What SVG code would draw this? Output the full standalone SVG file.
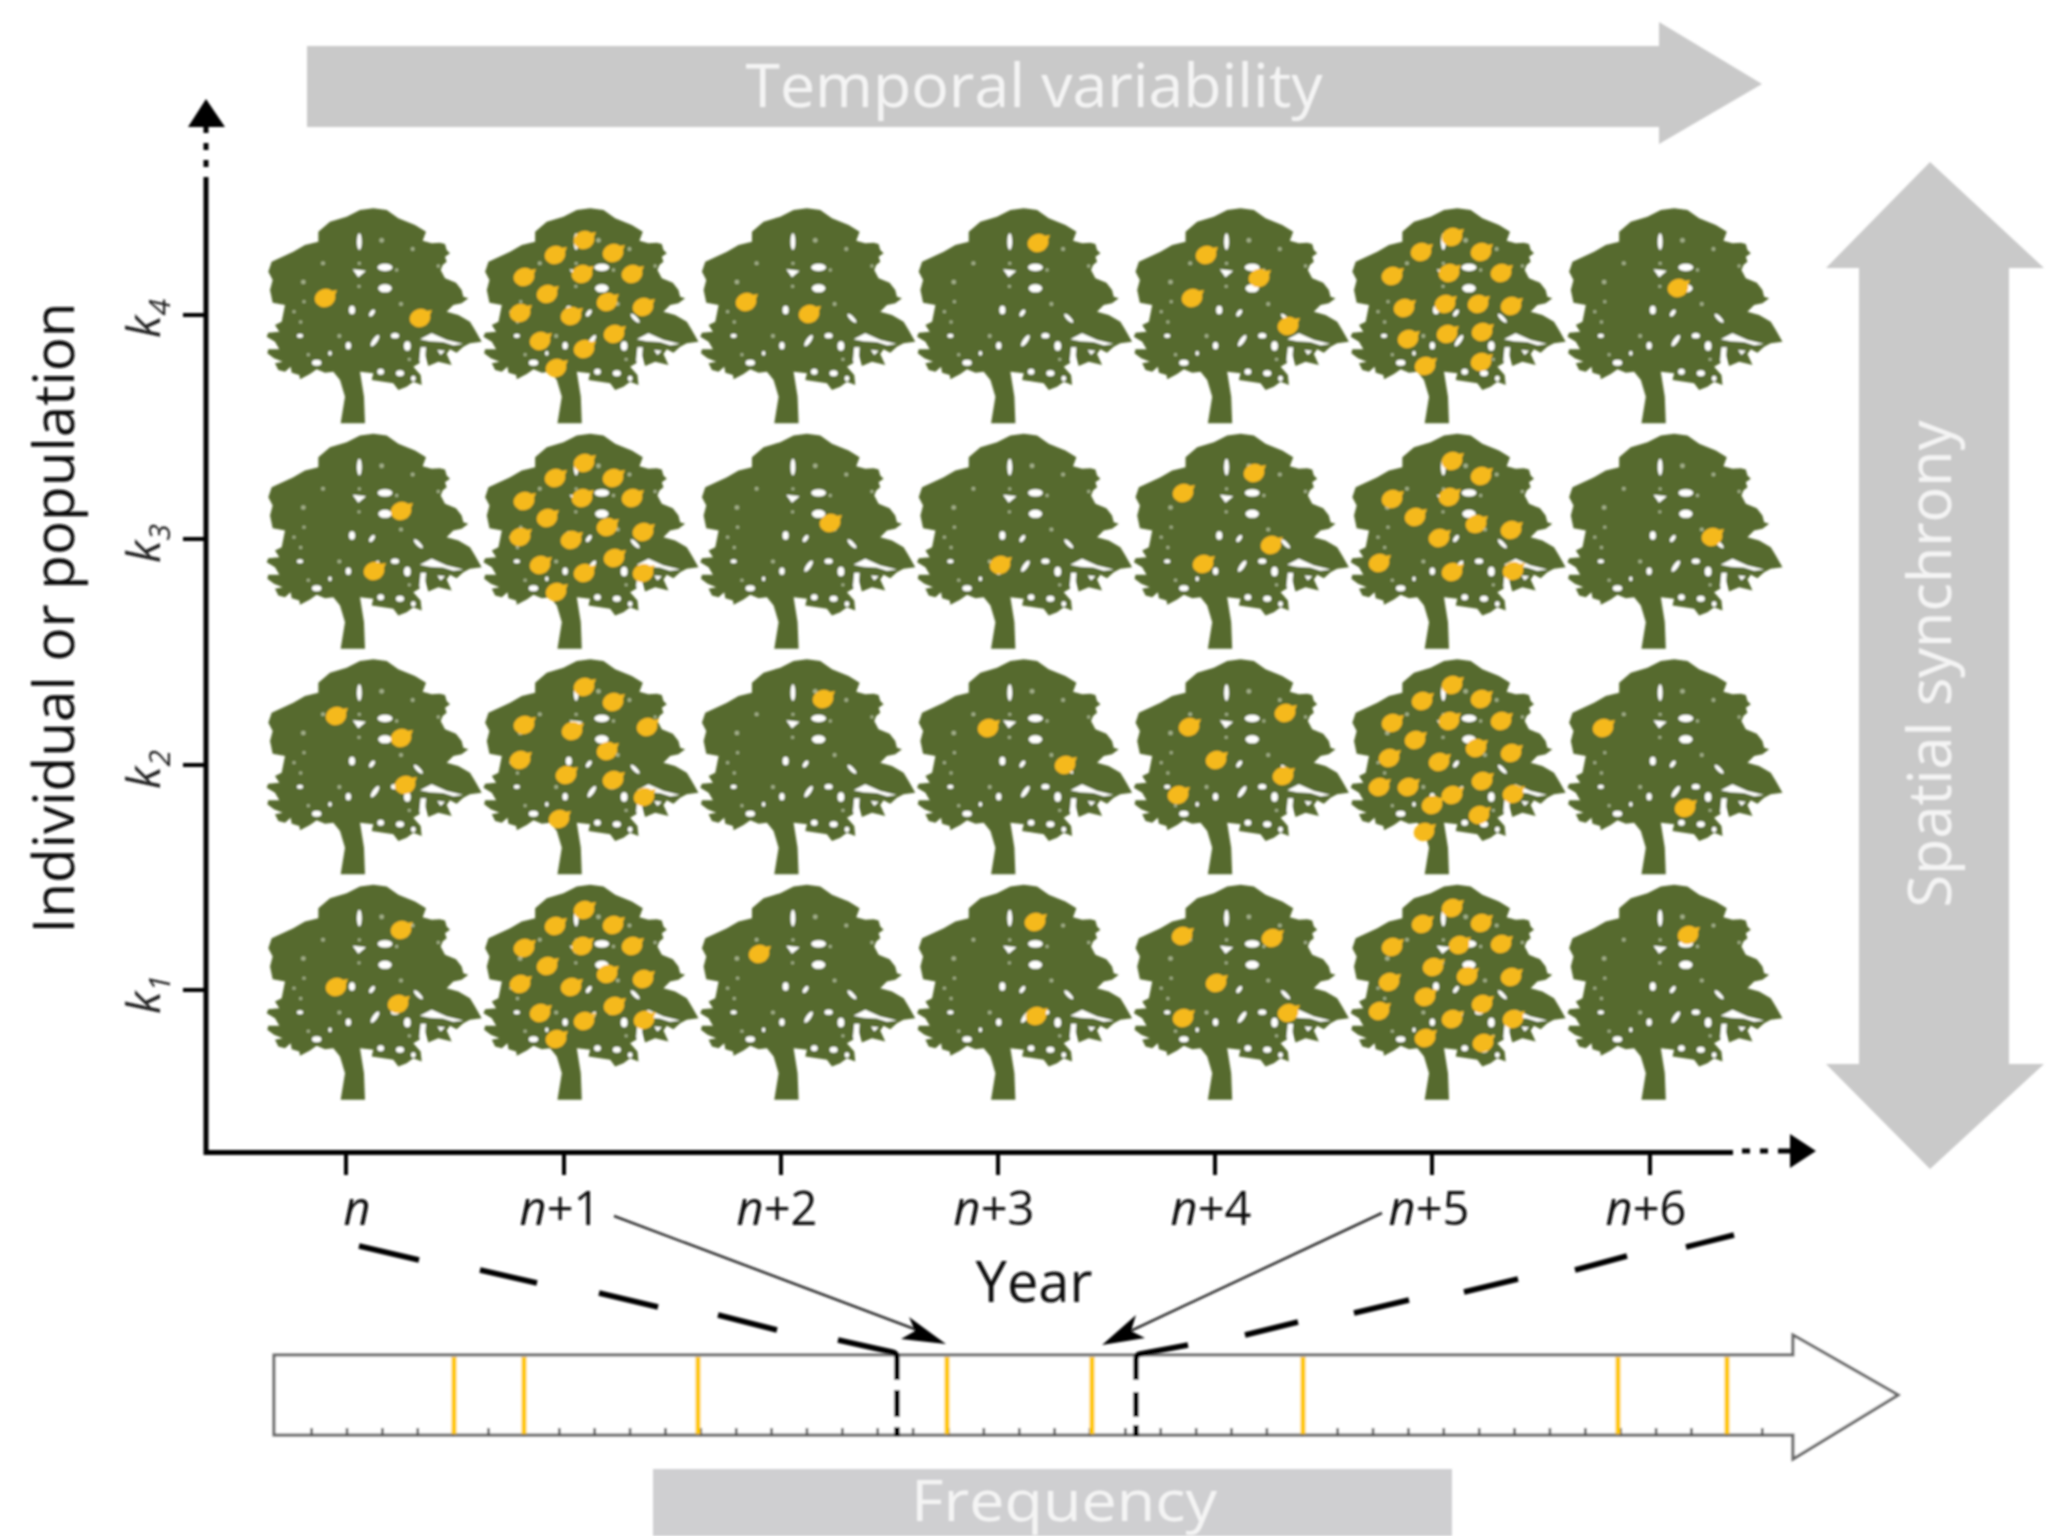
<svg xmlns="http://www.w3.org/2000/svg" width="2048" height="1536" viewBox="0 0 2048 1536">
<style>
text{font-family:"Open Sans","Liberation Sans",sans-serif}
.ban{fill:#f4f4f4;text-anchor:middle}
.yr{font-size:47px;fill:#111;text-anchor:middle}
.yr tspan{font-style:italic}
.k{font-size:46px;font-style:italic;fill:#222}
.k tspan{font-size:30px}
.tk{stroke:#000;stroke-width:4;fill:none}
.ax{stroke:#000;stroke-width:5;fill:none}
.dash{stroke:#000;stroke-width:5.500;fill:none}
.thin{stroke:#333;stroke-width:2.500;fill:none}
.gold{stroke:#ffc800;stroke-width:5}
.grey{fill:#c9c9c9}
.tl{fill:#fff;stroke:#666;stroke-width:3}
</style>
<defs>
<filter id="soft" x="-2%" y="-2%" width="104%" height="104%"><feGaussianBlur stdDeviation="0.9"/></filter>
<g id="f"><ellipse rx="10.500" ry="9" transform="rotate(-20)" fill="#f5b91e"/><path d="M6 -7L12 -8L9 -1Z" fill="#f5b91e"/></g>
<g id="tree" transform="scale(.33333)">
<path fill="#566b2e" d="M370 55L410 60L445 85L495 105L528 125L518 152L545 160L570 158L585 162L590 180L600 190L585 200L590 215L578 225L572 240L585 265L618 278L635 300L640 320L655 325L635 340L610 345L590 365L625 375L660 395L675 420L695 455L660 460L640 470L620 488L600 478L590 492L605 525L565 515L535 528L525 495L508 520L490 530L512 555L515 585L490 575L470 590L445 600L430 580L400 575L365 570L370 550L330 545L342 620L345 700L272 700L285 620L270 570L250 545L225 548L200 538L180 552L150 568L148 555L125 548L122 530L105 545L85 540L75 520L98 515L72 505L52 490L55 478L88 478L75 455L50 440L55 428L88 425L75 405L95 395L105 345L68 338L60 300L68 270L55 245L65 215L130 185L165 165L205 155L205 125L240 95L290 80L330 60Z"/>
<g fill="#fff">
<ellipse cx="328" cy="155" rx="7" ry="25"/><ellipse cx="405" cy="232" rx="22" ry="11"/><path d="M308 238L348 242L325 262Z"/><ellipse cx="405" cy="295" rx="20" ry="12"/><ellipse cx="306" cy="360" rx="9" ry="13"/><ellipse cx="366" cy="369" rx="6" ry="12" transform="rotate(35 366 369)"/><ellipse cx="375" cy="452" rx="7" ry="20" transform="rotate(35 375 452)"/><ellipse cx="435" cy="437" rx="12" ry="8"/><ellipse cx="472" cy="468" rx="10" ry="14"/><path d="M510 448L545 430L590 450L640 462L610 466L580 456L540 454Z"/><ellipse cx="150" cy="437" rx="9" ry="6"/><ellipse cx="295" cy="467" rx="8" ry="11"/><ellipse cx="200" cy="518" rx="14" ry="9"/><ellipse cx="240" cy="490" rx="5" ry="7"/><ellipse cx="392" cy="545" rx="10" ry="9"/><ellipse cx="450" cy="550" rx="12" ry="9"/><ellipse cx="490" cy="565" rx="7" ry="8"/><path d="M512 472L528 472L524 518L508 514Z"/><path d="M562 480L585 482L572 495Z"/><ellipse cx="505" cy="385" rx="6" ry="18" transform="rotate(-45 505 385)"/>
</g>
<g fill="#a4b08a">
<circle cx="395" cy="151" r="7"/><circle cx="488" cy="177" r="6"/><circle cx="219" cy="220" r="6"/><circle cx="328" cy="220" r="5"/><circle cx="160" cy="276" r="7"/><circle cx="440" cy="240" r="5"/><circle cx="327" cy="289" r="5"/><circle cx="162" cy="335" r="5"/><circle cx="132" cy="365" r="5"/><circle cx="453" cy="342" r="6"/><circle cx="152" cy="396" r="5"/><circle cx="268" cy="438" r="6"/><circle cx="175" cy="494" r="5"/><circle cx="565" cy="228" r="5"/><circle cx="478" cy="508" r="5"/>
</g>
</g>
</defs>
<rect width="2048" height="1536" fill="#fff"/>
<g filter="url(#soft)">
<g id="temporal-variability">
<path class="grey" d="M307 46H1659V22L1762 84L1659 144V127H307Z"/>
<text class="ban" x="1034" y="107" font-size="60" textLength="577" lengthAdjust="spacingAndGlyphs">Temporal variability</text>
</g>
<g id="spatial-synchrony">
<path class="grey" d="M1930 162L2044 268H2009V1064H2044L1930 1169L1826 1064H1859V268H1826Z"/>
<text class="ban" transform="translate(1951 664) rotate(-90)" font-size="60" textLength="487" lengthAdjust="spacingAndGlyphs">Spatial synchrony</text>
</g>
<g id="frequency">
<rect x="653" y="1469" width="799" height="67" fill="#cfcfd1"/>
<text class="ban" x="1064" y="1521" font-size="56" textLength="306" lengthAdjust="spacingAndGlyphs">Frequency</text>
</g>
<g id="trees">
<g id="tree-k4-n"><use href="#tree" transform="translate(250 190)"/><use href="#f" x="325" y="298"/><use href="#f" x="420" y="318"/></g>
<g id="tree-k4-n1"><use href="#tree" transform="translate(466.8 190)"/><use href="#f" x="584" y="240"/><use href="#f" x="555" y="255"/><use href="#f" x="613" y="253"/><use href="#f" x="524" y="277"/><use href="#f" x="582" y="274"/><use href="#f" x="632" y="274"/><use href="#f" x="547" y="294"/><use href="#f" x="607" y="302"/><use href="#f" x="520" y="313"/><use href="#f" x="643" y="307"/><use href="#f" x="571" y="316"/><use href="#f" x="614" y="334"/><use href="#f" x="540" y="341"/><use href="#f" x="584" y="349"/><use href="#f" x="556" y="368"/></g>
<g id="tree-k4-n2"><use href="#tree" transform="translate(683.6 190)"/><use href="#f" x="746" y="302"/><use href="#f" x="809" y="314"/></g>
<g id="tree-k4-n3"><use href="#tree" transform="translate(900.4 190)"/><use href="#f" x="1038" y="243"/></g>
<g id="tree-k4-n4"><use href="#tree" transform="translate(1117.2 190)"/><use href="#f" x="1206" y="255"/><use href="#f" x="1259" y="278"/><use href="#f" x="1192" y="298"/><use href="#f" x="1288" y="326"/></g>
<g id="tree-k4-n5"><use href="#tree" transform="translate(1334 190)"/><use href="#f" x="1452" y="237"/><use href="#f" x="1421" y="252"/><use href="#f" x="1481" y="252"/><use href="#f" x="1392" y="276"/><use href="#f" x="1449" y="273"/><use href="#f" x="1501" y="273"/><use href="#f" x="1404" y="308"/><use href="#f" x="1445" y="304"/><use href="#f" x="1478" y="304"/><use href="#f" x="1511" y="306"/><use href="#f" x="1408" y="339"/><use href="#f" x="1447" y="334"/><use href="#f" x="1482" y="332"/><use href="#f" x="1425" y="366"/><use href="#f" x="1481" y="362"/></g>
<g id="tree-k4-n6"><use href="#tree" transform="translate(1550.8 190)"/><use href="#f" x="1678" y="288"/></g>

<g id="tree-k3-n"><use href="#tree" transform="translate(250 415.5)"/><use href="#f" x="401" y="511"/><use href="#f" x="374" y="571"/></g>
<g id="tree-k3-n1"><use href="#tree" transform="translate(466.8 415.5)"/><use href="#f" x="584" y="463"/><use href="#f" x="555" y="478"/><use href="#f" x="613" y="478"/><use href="#f" x="524" y="501"/><use href="#f" x="582" y="498"/><use href="#f" x="632" y="498"/><use href="#f" x="547" y="518"/><use href="#f" x="607" y="527"/><use href="#f" x="520" y="537"/><use href="#f" x="643" y="532"/><use href="#f" x="571" y="540"/><use href="#f" x="614" y="558"/><use href="#f" x="540" y="565"/><use href="#f" x="584" y="573"/><use href="#f" x="556" y="592"/><use href="#f" x="643" y="573"/></g>
<g id="tree-k3-n2"><use href="#tree" transform="translate(683.6 415.5)"/><use href="#f" x="830" y="523"/></g>
<g id="tree-k3-n3"><use href="#tree" transform="translate(900.4 415.5)"/><use href="#f" x="1000" y="565"/></g>
<g id="tree-k3-n4"><use href="#tree" transform="translate(1117.2 415.5)"/><use href="#f" x="1254" y="473"/><use href="#f" x="1183" y="493"/><use href="#f" x="1271" y="545"/><use href="#f" x="1203" y="564"/></g>
<g id="tree-k3-n5"><use href="#tree" transform="translate(1334 415.5)"/><use href="#f" x="1452" y="461"/><use href="#f" x="1481" y="476"/><use href="#f" x="1392" y="499"/><use href="#f" x="1449" y="497"/><use href="#f" x="1415" y="517"/><use href="#f" x="1476" y="524"/><use href="#f" x="1511" y="530"/><use href="#f" x="1439" y="538"/><use href="#f" x="1379" y="563"/><use href="#f" x="1452" y="572"/><use href="#f" x="1513" y="571"/></g>
<g id="tree-k3-n6"><use href="#tree" transform="translate(1550.8 415.5)"/><use href="#f" x="1712" y="537"/></g>

<g id="tree-k2-n"><use href="#tree" transform="translate(250 641)"/><use href="#f" x="336" y="716"/><use href="#f" x="401" y="738"/><use href="#f" x="405" y="785"/></g>
<g id="tree-k2-n1"><use href="#tree" transform="translate(466.8 641)"/><use href="#f" x="584" y="687"/><use href="#f" x="613" y="702"/><use href="#f" x="524" y="725"/><use href="#f" x="572" y="731"/><use href="#f" x="647" y="727"/><use href="#f" x="607" y="751"/><use href="#f" x="520" y="760"/><use href="#f" x="566" y="775"/><use href="#f" x="613" y="780"/><use href="#f" x="644" y="797"/><use href="#f" x="559" y="819"/></g>
<g id="tree-k2-n2"><use href="#tree" transform="translate(683.6 641)"/><use href="#f" x="823" y="699"/></g>
<g id="tree-k2-n3"><use href="#tree" transform="translate(900.4 641)"/><use href="#f" x="988" y="728"/><use href="#f" x="1065" y="765"/></g>
<g id="tree-k2-n4"><use href="#tree" transform="translate(1117.2 641)"/><use href="#f" x="1285" y="713"/><use href="#f" x="1189" y="727"/><use href="#f" x="1216" y="760"/><use href="#f" x="1283" y="776"/><use href="#f" x="1178" y="795"/></g>
<g id="tree-k2-n5"><use href="#tree" transform="translate(1334 641)"/><use href="#f" x="1452" y="685"/><use href="#f" x="1422" y="701"/><use href="#f" x="1481" y="699"/><use href="#f" x="1392" y="723"/><use href="#f" x="1449" y="721"/><use href="#f" x="1501" y="721"/><use href="#f" x="1415" y="740"/><use href="#f" x="1476" y="748"/><use href="#f" x="1511" y="753"/><use href="#f" x="1389" y="758"/><use href="#f" x="1439" y="762"/><use href="#f" x="1482" y="781"/><use href="#f" x="1379" y="787"/><use href="#f" x="1408" y="787"/><use href="#f" x="1452" y="795"/><use href="#f" x="1513" y="794"/><use href="#f" x="1432" y="805"/><use href="#f" x="1479" y="815"/><use href="#f" x="1424" y="832"/></g>
<g id="tree-k2-n6"><use href="#tree" transform="translate(1550.8 641)"/><use href="#f" x="1603" y="728"/><use href="#f" x="1685" y="808"/></g>

<g id="tree-k1-n"><use href="#tree" transform="translate(250 866.5)"/><use href="#f" x="401" y="930"/><use href="#f" x="336" y="987"/><use href="#f" x="398" y="1004"/></g>
<g id="tree-k1-n1"><use href="#tree" transform="translate(466.8 866.5)"/><use href="#f" x="584" y="910"/><use href="#f" x="555" y="926"/><use href="#f" x="613" y="925"/><use href="#f" x="524" y="948"/><use href="#f" x="582" y="946"/><use href="#f" x="632" y="946"/><use href="#f" x="547" y="966"/><use href="#f" x="607" y="974"/><use href="#f" x="520" y="984"/><use href="#f" x="643" y="979"/><use href="#f" x="571" y="987"/><use href="#f" x="614" y="1006"/><use href="#f" x="540" y="1013"/><use href="#f" x="584" y="1021"/><use href="#f" x="556" y="1039"/><use href="#f" x="644" y="1020"/></g>
<g id="tree-k1-n2"><use href="#tree" transform="translate(683.6 866.5)"/><use href="#f" x="759" y="954"/></g>
<g id="tree-k1-n3"><use href="#tree" transform="translate(900.4 866.5)"/><use href="#f" x="1035" y="922"/><use href="#f" x="1036" y="1016"/></g>
<g id="tree-k1-n4"><use href="#tree" transform="translate(1117.2 866.5)"/><use href="#f" x="1182" y="936"/><use href="#f" x="1272" y="938"/><use href="#f" x="1216" y="983"/><use href="#f" x="1183" y="1018"/><use href="#f" x="1288" y="1013"/></g>
<g id="tree-k1-n5"><use href="#tree" transform="translate(1334 866.5)"/><use href="#f" x="1452" y="908"/><use href="#f" x="1422" y="924"/><use href="#f" x="1481" y="923"/><use href="#f" x="1392" y="947"/><use href="#f" x="1459" y="945"/><use href="#f" x="1501" y="944"/><use href="#f" x="1433" y="967"/><use href="#f" x="1467" y="976"/><use href="#f" x="1511" y="977"/><use href="#f" x="1389" y="982"/><use href="#f" x="1425" y="997"/><use href="#f" x="1482" y="1004"/><use href="#f" x="1379" y="1011"/><use href="#f" x="1452" y="1019"/><use href="#f" x="1513" y="1019"/><use href="#f" x="1425" y="1038"/><use href="#f" x="1483" y="1043"/></g>
<g id="tree-k1-n6"><use href="#tree" transform="translate(1550.8 866.5)"/><use href="#f" x="1688" y="935"/></g>
</g>
<g id="timeline">
<path class="tl" d="M274 1355H1793V1335L1898 1395L1793 1459V1435H274Z"/>
<line x1="310.4" y1="1432" x2="1764" y2="1432" stroke="#555" stroke-width="8" stroke-dasharray="2.500 32.880"/>
<path class="gold" d="M454 1357V1434M524 1357V1434M698 1357V1434M947 1357V1434M1092 1357V1434M1303 1357V1434M1618 1357V1434M1727 1357V1434"/>
</g>
<g id="connectors">
<path class="ax" d="M206 1154V177M203.500 1152.500H1733"/>
<path class="ax" d="M206 127V133M206 143V150M206 160V167"/>
<path d="M206 99L225 127H188Z"/>
<path class="ax" d="M1742 1151H1750M1760 1151H1768M1778 1151H1792"/>
<path d="M1816 1151L1790 1134V1168Z"/>
<path class="tk" d="M183 315H206M183 539H206M183 765H206M183 990H206M346 1152V1175M564 1152V1175M781 1152V1175M998 1152V1175M1215 1152V1175M1432 1152V1175M1650 1152V1175"/>
<path class="dash" d="M359 1246L419 1260M480 1270L537 1283M599 1293L658 1307M718 1315L777 1330M838 1340L892 1352Q897 1353 897 1358V1380M897 1390V1417M897 1427V1436"/>
<path class="dash" d="M1734 1235L1686 1247M1627 1256L1575 1270M1518 1279L1464 1292M1409 1300L1354 1313M1298 1322L1245 1335M1188 1345L1140 1354Q1136 1355 1136 1359V1380M1136 1392V1417M1136 1425V1436"/>
<path class="thin" d="M614 1216L925 1333"/>
<path d="M946 1344L909 1317L915 1331L901 1339Z"/>
<path class="thin" d="M1382 1213L1122 1335"/>
<path d="M1102 1345L1136 1315L1131 1331L1145 1338Z"/>
</g>
<g id="axis-labels">
<text transform="translate(74 618) rotate(-90)" font-size="56" fill="#111" text-anchor="middle" textLength="631" lengthAdjust="spacingAndGlyphs">Individual or population</text>
<text x="1034" y="1302" font-size="56" fill="#111" text-anchor="middle">Year</text>
<text class="k" transform="translate(160 338) rotate(-90)">k<tspan dy="10">4</tspan></text>
<text class="k" transform="translate(160 563) rotate(-90)">k<tspan dy="10">3</tspan></text>
<text class="k" transform="translate(160 789) rotate(-90)">k<tspan dy="10">2</tspan></text>
<text class="k" transform="translate(160 1014) rotate(-90)">k<tspan dy="10">1</tspan></text>
<text class="yr" x="357" y="1225"><tspan>n</tspan></text>
<text class="yr" x="560" y="1225"><tspan>n</tspan>+1</text>
<text class="yr" x="777" y="1225"><tspan>n</tspan>+2</text>
<text class="yr" x="994" y="1225"><tspan>n</tspan>+3</text>
<text class="yr" x="1211" y="1225"><tspan>n</tspan>+4</text>
<text class="yr" x="1429" y="1225"><tspan>n</tspan>+5</text>
<text class="yr" x="1646" y="1225"><tspan>n</tspan>+6</text>
</g>
</g>
</svg>
